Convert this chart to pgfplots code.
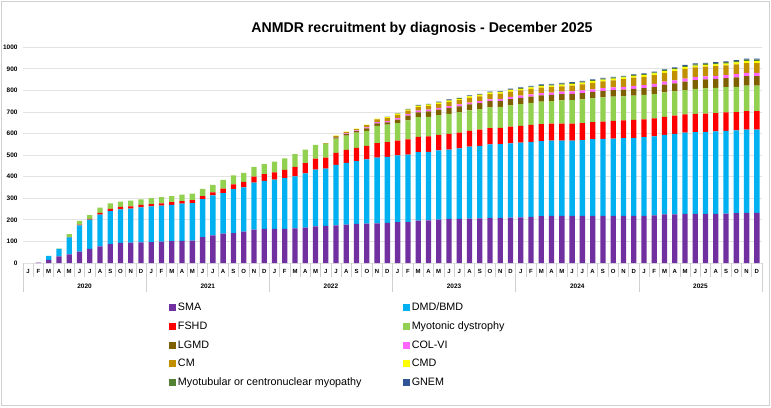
\documentclass[border=0pt]{standalone}
\usepackage{pgfplots}
\pgfplotsset{compat=1.18}
\usepackage{pgfplotstable}
\usepackage{fontspec}
\setmainfont{Liberation Sans}
\definecolor{csma}{HTML}{7030A0}
\definecolor{cdmd}{HTML}{00B0F0}
\definecolor{cfshd}{HTML}{FF0000}
\definecolor{cmyo}{HTML}{92D050}
\definecolor{clgmd}{HTML}{7F6000}
\definecolor{ccol}{HTML}{FF66FF}
\definecolor{ccm}{HTML}{C09000}
\definecolor{ccmd}{HTML}{FFFF00}
\definecolor{cmtm}{HTML}{548235}
\definecolor{cgnem}{HTML}{2F5597}
\definecolor{gridc}{HTML}{E3E3E3}
\definecolor{sepc}{HTML}{D0D0D0}
\pgfplotstableread{
x sma dmd fshd myo lgmd col cm cmd mtm gnem
0 0 0 0 0 0 0 0 0 0 0
1 2 0 0 0 0 0 0 0 0 0
2 15 18 0 0 0 0 0 0 0 0
3 31 35 0 1 0 0 0 0 0 0
4 40 79 1 14 0 0 0 0 0 0
5 53 121 4 17 0 0 0 0 0 0
6 65 136 4 17 0 0 0 0 0 0
7 77 147 8 25 0 0 0 0 0 0
8 87 154 10 25 0 0 0 0 0 0
9 93 156 11 25 0 0 0 0 0 0
10 95 157 11 26 0 0 0 0 0 0
11 96 162 11 26 0 0 0 0 0 0
12 97 165 11 28 0 0 0 0 0 0
13 99 167 11 28 0 0 0 0 0 0
14 102 168 12 28 0 0 0 0 0 0
15 103 172 12 30 0 0 0 0 0 0
16 104 174 14 30 0 0 0 0 0 0
17 120 176 14 34 0 0 0 0 0 0
18 128 185 15 34 0 0 0 0 0 0
19 136 188 21 40 0 0 0 0 0 0
20 139 203 22 42 0 0 0 0 0 0
21 146 205 25 42 0 0 0 0 0 0
22 155 218 28 45 0 0 0 0 0 0
23 158 223 31 46 0 0 0 0 0 0
24 158 228 34 50 0 0 0 0 0 0
25 158 235 39 53 0 0 0 0 0 0
26 161 241 44 59 0 0 0 0 0 0
27 164 252 47 63 0 0 0 0 0 0
28 170 263 51 64 0 0 0 0 0 0
29 172 265 51 64 2 0 1 1 0 0
30 175 280 56 66 5 1 6 1 0 0
31 178 286 61 66 7 3 6 2 0 0
32 181 291 62 70 7 4 6 2 0 0
33 183 297 63 70 11 5 10 3 0 0
34 184 305 67 80 11 6 13 3 0 0
35 186 306 68 81 11 6 15 3 1 1
36 189 310 68 82 16 7 15 5 2 1
37 190 313 70 88 22 7 16 5 2 1
38 197 317 71 91 22 8 17 6 2 2
39 198 317 72 91 25 8 17 6 2 2
40 201 321 72 92 25 8 18 6 3 2
41 204 322 73 92 28 8 20 6 3 2
42 204 327 73 94 28 9 20 6 3 2
43 206 333 73 95 28 9 22 6 3 2
44 207 336 75 95 28 9 22 7 3 2
45 209 341 75 97 28 9 24 7 3 2
46 209 342 76 97 28 9 24 7 3 2
47 210 345 77 99 29 10 24 7 4 3
48 211 347 78 101 29 10 24 7 4 3
49 214 347 79 102 29 11 25 7 4 3
50 217 348 79 104 29 11 25 7 5 3
51 218 349 79 104 29 11 25 7 5 3
52 218 349 79 108 29 11 25 8 5 3
53 218 349 79 109 29 12 26 8 5 3
54 218 352 79 109 30 12 28 8 5 3
55 218 356 79 110 30 12 30 8 5 3
56 218 358 80 112 30 13 31 8 5 3
57 218 359 82 112 30 13 33 8 5 3
58 218 361 82 112 31 13 35 8 5 3
59 218 362 83 113 31 14 38 8 5 3
60 218 365 83 113 32 14 38 8 5 3
61 221 366 83 113 34 14 40 8 5 3
62 226 368 84 113 36 14 41 8 5 3
63 226 373 84 113 37 14 43 8 6 3
64 228 377 84 113 39 14 45 8 6 4
65 228 379 84 116 41 14 45 8 6 4
66 228 380 85 117 41 14 45 8 6 4
67 228 382 85 117 42 14 45 8 6 4
68 229 384 85 117 42 14 45 8 7 4
69 231 384 85 117 44 15 45 9 7 4
70 232 386 86 118 44 16 45 9 7 4
71 232 386 86 118 44 16 45 9 7 4
}\data
\begin{document}
\begin{tikzpicture}[x=1bp,y=1bp]
\useasboundingbox (0,0) rectangle (771,407);
\draw[sepc, line width=0.8bp] (1.5,1.5) rectangle (769.5,405.5);
\node[font=\bfseries\fontsize{14.2}{16}\selectfont] at (422,378.5) {ANMDR recruitment by diagnosis - December 2025};
\begin{axis}[
  at={(23bp,144bp)}, anchor=south west,
  width=739bp, height=215.7bp, scale only axis,
  xmin=-0.5, xmax=71.5, ymin=0, ymax=1000,
  ybar stacked, bar width=5.3bp,
  axis line style={draw=none},
  ytick={0,100,...,1000},
  ymajorgrids, grid style={gridc, line width=0.9bp},
  major tick length=0pt,
  /pgf/number format/assume math mode=true,
  /pgf/number format/1000 sep={},
  yticklabel style={font=\bfseries\fontsize{6.5}{7}\selectfont, xshift=-2bp},
  xtick={0,...,71},
  xticklabels={J,F,M,A,M,J,J,A,S,O,N,D,J,F,M,A,M,J,J,A,S,O,N,D,J,F,M,A,M,J,J,A,S,O,N,D,J,F,M,A,M,J,J,A,S,O,N,D,J,F,M,A,M,J,J,A,S,O,N,D,J,F,M,A,M,J,J,A,S,O,N,D},
  xticklabel style={font=\bfseries\fontsize{6}{7}\selectfont, yshift=-3bp},
  legend columns=2,
  legend cell align=left,
  legend style={draw=none, fill=none, at={(rel axis cs:0.197,-0.175)}, anchor=north west,
    font=\fontsize{10.8}{12}\selectfont, inner sep=0pt,
    /tikz/every even column/.append style={column sep=39bp},
    row sep=5.6bp},
  legend image code/.code={\fill[#1] (0bp,-3.6bp) rectangle (7.2bp,3.6bp);},
]
\addplot[fill=csma, draw=none] table[x=x,y=sma] {\data};
\addlegendentry{SMA}
\addplot[fill=cdmd, draw=none] table[x=x,y=dmd] {\data};
\addlegendentry{DMD/BMD}
\addplot[fill=cfshd, draw=none] table[x=x,y=fshd] {\data};
\addlegendentry{FSHD}
\addplot[fill=cmyo, draw=none] table[x=x,y=myo] {\data};
\addlegendentry{Myotonic dystrophy}
\addplot[fill=clgmd, draw=none] table[x=x,y=lgmd] {\data};
\addlegendentry{LGMD}
\addplot[fill=ccol, draw=none] table[x=x,y=col] {\data};
\addlegendentry{COL-VI}
\addplot[fill=ccm, draw=none] table[x=x,y=cm] {\data};
\addlegendentry{CM}
\addplot[fill=ccmd, draw=none] table[x=x,y=cmd] {\data};
\addlegendentry{CMD}
\addplot[fill=cmtm, draw=none] table[x=x,y=mtm] {\data};
\addlegendentry{Myotubular or centronuclear myopathy}
\addplot[fill=cgnem, draw=none] table[x=x,y=gnem] {\data};
\addlegendentry{GNEM}
\end{axis}
% category separators
\foreach \j in {0,...,72} {
  \draw[sepc, line width=0.6bp] ({23+10.264*\j},144) -- ({23+10.264*\j},130);
}
\foreach \j in {0,12,24,36,48,60,72} {
  \draw[sepc, line width=0.6bp] ({23+10.264*\j},130) -- ({23+10.264*\j},115);
}
\foreach \yr [count=\k from 0] in {2020,2021,2022,2023,2024,2025} {
  \node[font=\bfseries\fontsize{6.5}{7}\selectfont] at ({23+10.264*(12*\k+6)},121) {\yr};
}
\end{tikzpicture}
\end{document}
